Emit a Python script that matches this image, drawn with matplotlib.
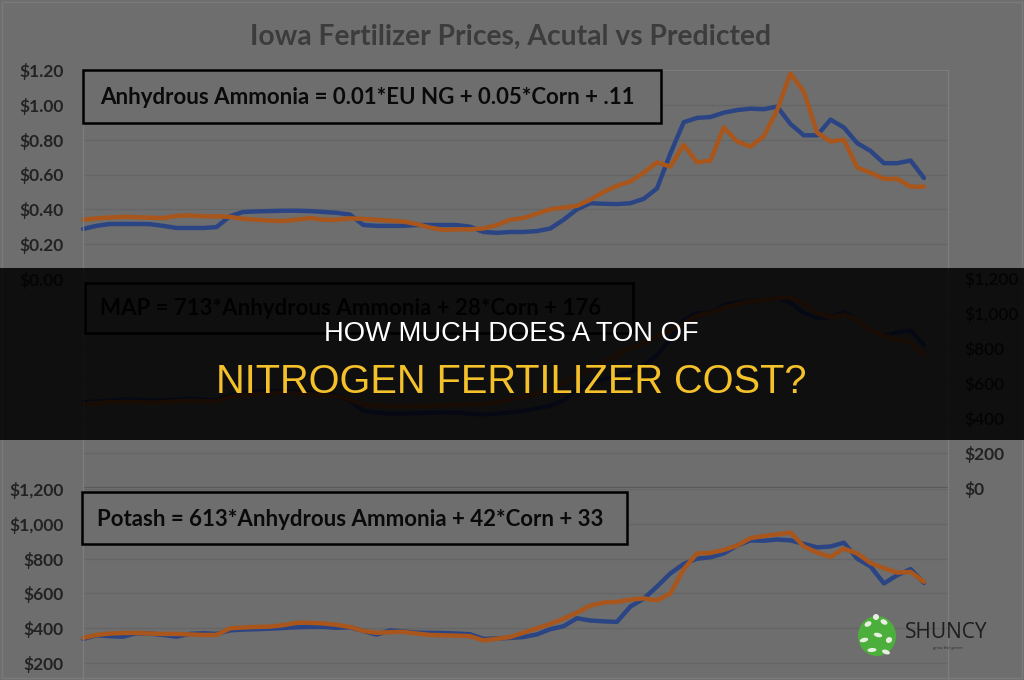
import matplotlib
matplotlib.use('Agg')
import matplotlib.pyplot as plt
from matplotlib.patches import Rectangle, Ellipse

# quarterly observations, left to right
quarters = list(range(64))

# Anhydrous ammonia, $ per lb N
aa_actual = [0.287, 0.305, 0.316, 0.316, 0.316, 0.315, 0.305, 0.293, 0.293, 0.293,
             0.298, 0.36, 0.385, 0.388, 0.39, 0.392, 0.392, 0.39, 0.385, 0.38,
             0.37, 0.31, 0.305, 0.305, 0.305, 0.31, 0.31, 0.31, 0.31, 0.30,
             0.27, 0.265, 0.27, 0.27, 0.275, 0.29, 0.34, 0.40, 0.435, 0.432,
             0.43, 0.435, 0.46, 0.52, 0.72, 0.90, 0.925, 0.93, 0.955, 0.97,
             0.978, 0.975, 0.99, 0.89, 0.825, 0.825, 0.915, 0.87, 0.78, 0.735,
             0.665, 0.665, 0.68, 0.58]
aa_pred = [0.34, 0.348, 0.353, 0.357, 0.355, 0.352, 0.35, 0.362, 0.365, 0.36,
           0.36, 0.357, 0.345, 0.34, 0.335, 0.333, 0.34, 0.35, 0.34, 0.34,
           0.348, 0.345, 0.34, 0.335, 0.33, 0.315, 0.295, 0.282, 0.285, 0.285,
           0.29, 0.31, 0.34, 0.35, 0.375, 0.40, 0.41, 0.42, 0.455, 0.50,
           0.535, 0.56, 0.61, 0.67, 0.645, 0.77, 0.67, 0.68, 0.87, 0.79,
           0.76, 0.82, 0.97, 1.18, 1.075, 0.84, 0.79, 0.80, 0.64, 0.61,
           0.575, 0.575, 0.53, 0.53]

# MAP, $ per ton
map_actual = [490, 495, 500, 505, 505, 500, 500, 505, 510, 505,
              500, 530, 545, 550, 555, 555, 550, 545, 540, 530,
              500, 440, 430, 425, 425, 428, 430, 432, 430, 425,
              420, 425, 432, 440, 455, 470, 500, 560, 600, 620,
              640, 660, 700, 760, 850, 960, 1000, 1000, 1045, 1060,
              1070, 1075, 1085, 1060, 1000, 970, 975, 1005, 960, 900,
              870, 890, 900, 817]
map_pred = [480, 485, 490, 492, 490, 488, 490, 495, 498, 495,
            495, 520, 530, 535, 540, 545, 540, 535, 530, 525,
            505, 475, 470, 468, 465, 468, 470, 472, 475, 478,
            480, 490, 505, 520, 540, 570, 600, 640, 680, 720,
            760, 800, 830, 870, 900, 940, 985, 1000, 1030, 1050,
            1065, 1075, 1085, 1090, 1050, 1000, 975, 990, 960, 900,
            870, 850, 830, 760]

# Potash, $ per ton
potash_actual = [339, 360, 355, 352, 372, 370, 362, 352, 368, 372,
                 368, 388, 393, 395, 398, 402, 406, 408, 408, 403,
                 406, 385, 364, 388, 382, 375, 374, 373, 370, 366,
                 339, 342, 345, 350, 365, 395, 412, 458, 445, 440,
                 437, 525, 570, 640, 715, 770, 800, 808, 830, 875,
                 905, 903, 910, 905, 885, 865, 870, 892, 800, 755,
                 658, 705, 740, 661]
potash_pred = [345, 362, 370, 373, 374, 370, 368, 368, 365, 362,
               362, 400, 405, 408, 410, 418, 432, 432, 428, 420,
               408, 385, 374, 378, 380, 370, 362, 360, 358, 355,
               330, 340, 350, 375, 400, 425, 455, 490, 530, 548,
               552, 565, 572, 560, 600, 740, 830, 833, 850, 875,
               918, 930, 940, 950, 870, 835, 810, 858, 830, 775,
               745, 720, 724, 667]

aa_ticks = [0, 0.2, 0.4, 0.6, 0.8, 1.0, 1.2]
ton_ticks = [0, 200, 400, 600, 800, 1000, 1200]

title = 'Iowa Fertilizer Prices, Acutal vs Predicted'
aa_eq = 'Anhydrous Ammonia = 0.01*EU NG + 0.05*Corn + .11'
map_eq = 'MAP = 713*Anhydrous Ammonia + 28*Corn + 176'
potash_eq = 'Potash = 613*Anhydrous Ammonia + 42*Corn + 33'

W, H = 1024, 680
BG = '#6e6e6e'
BLUE = '#2b4584'
ORANGE = '#a8561c'
GRID = '#656565'
EDGE = '#7d7d7d'
LABEL = '#222222'
FONT = 'Lato'


def fx(x):
    return x / W


def fy(y):
    return 1 - y / H


fig = plt.figure(figsize=(10.24, 6.8), dpi=100, facecolor=BG)


def make_axes(top_px, bottom_px, side, ticks, labels):
    ax = fig.add_axes([fx(83), fy(bottom_px), fx(948) - fx(83), (bottom_px - top_px) / H])
    ax.set_facecolor('none')
    ax.set_xlim(0, 64.8)
    ax.set_ylim(ticks[0], ticks[-1])
    ax.set_xticks([])
    ax.set_yticks(ticks)
    ax.set_yticklabels(labels, fontfamily=FONT, fontweight='bold', fontsize=12.5, color=LABEL)
    ax.grid(axis='y', color=GRID, linewidth=1)
    for s in ['top', 'bottom']:
        ax.spines[s].set_visible(False)
    for s in ['left', 'right']:
        ax.spines[s].set_color(EDGE)
        ax.spines[s].set_linewidth(1)
    if side == 'right':
        ax.yaxis.tick_right()
        ax.tick_params(axis='y', length=0, pad=12)
    else:
        ax.tick_params(axis='y', length=0, pad=14)
    return ax


ax_top = make_axes(70, 279, 'left', aa_ticks, [f'${t:.2f}' for t in aa_ticks])
ax_top.spines['top'].set_visible(True)
ax_top.spines['top'].set_color(EDGE)
ax_mid = make_axes(278, 488, 'right', ton_ticks, [f'${t:,}' for t in ton_ticks])
ax_mid.axhline(0, color='#5a5a5a', linewidth=1.6)
# the $0 label of the lower chart falls below the picture edge
ax_bot = make_axes(489, 698, 'left', ton_ticks, [''] + [f'${t:,}' for t in ton_ticks[1:]])

for ax, actual, pred in [(ax_top, aa_actual, aa_pred),
                         (ax_mid, map_actual, map_pred),
                         (ax_bot, potash_actual, potash_pred)]:
    ax.plot(quarters, actual, color=BLUE, linewidth=3.2, solid_joinstyle='round',
            solid_capstyle='round', clip_on=False)
    ax.plot(quarters, pred, color=ORANGE, linewidth=3.2, solid_joinstyle='round',
            solid_capstyle='round', clip_on=False)

# outer chart border
fig.patches.append(Rectangle((fx(2), fy(678)), fx(1020), 676 / H, transform=fig.transFigure,
                             fill=False, edgecolor='#7a7a7a', linewidth=1, zorder=1))

fig.text(fx(511), fy(37), title, ha='center', va='center', fontfamily=FONT,
         fontweight='bold', fontsize=20.3, color='#3c3c3c')

# equation boxes
for x0, y0, x1, y1, tx, txt in [(83, 70, 661, 123, 100, aa_eq),
                                 (85, 283, 633, 333, 100, map_eq),
                                 (82, 492, 627, 544, 97, potash_eq)]:
    fig.patches.append(Rectangle((fx(x0), fy(y1)), (x1 - x0) / W, (y1 - y0) / H,
                                 transform=fig.transFigure, facecolor=BG,
                                 edgecolor='black', linewidth=1.8, zorder=2))
    fig.text(fx(tx), fy((y0 + y1) / 2 + 1), txt, ha='left', va='center', fontfamily=FONT,
             fontweight='bold', fontsize=16, color='#0a0a0a', zorder=3)

# dark banner
fig.patches.append(Rectangle((0, fy(440)), 1, (440 - 268) / H, transform=fig.transFigure,
                             facecolor='#000000', alpha=0.86, edgecolor='none', zorder=10))
fig.text(fx(511), fy(334), 'HOW MUCH DOES A TON OF', ha='center', va='center',
         fontfamily='Liberation Sans', fontsize=19.7, color='white', zorder=11)
fig.text(fx(511), fy(382), 'NITROGEN FERTILIZER COST?', ha='center', va='center',
         fontfamily='Liberation Sans', fontsize=28.6, color='#f4c12b', zorder=11)

# logo
fig.patches.append(Ellipse((fx(877), fy(636)), 38 / W, 40 / H, transform=fig.transFigure,
                           facecolor='#4caf3c', edgecolor='none', zorder=11))
for lx, ly, ang in [(868, 624, 60), (884, 622, 120), (864, 640, 30), (878, 635, 150),
                    (889, 640, 80), (872, 650, 10), (886, 652, 140), (876, 617, 90)]:
    fig.patches.append(Ellipse((fx(lx), fy(ly)), 9 / W, 4 / H, angle=ang,
                               transform=fig.transFigure, facecolor='#e8efe2',
                               edgecolor='none', zorder=12))
fig.text(fx(905), fy(633), 'SHUNCY', ha='left', va='center', fontfamily='Open Sans',
         fontsize=15, color='#1e1e1e', zorder=11)
fig.text(fx(948), fy(648), 'grow the green', ha='center', va='center', fontfamily='Open Sans',
         fontsize=3, color='#2a2a2a', zorder=11)

fig.savefig('out.png', dpi=100, facecolor=BG)
